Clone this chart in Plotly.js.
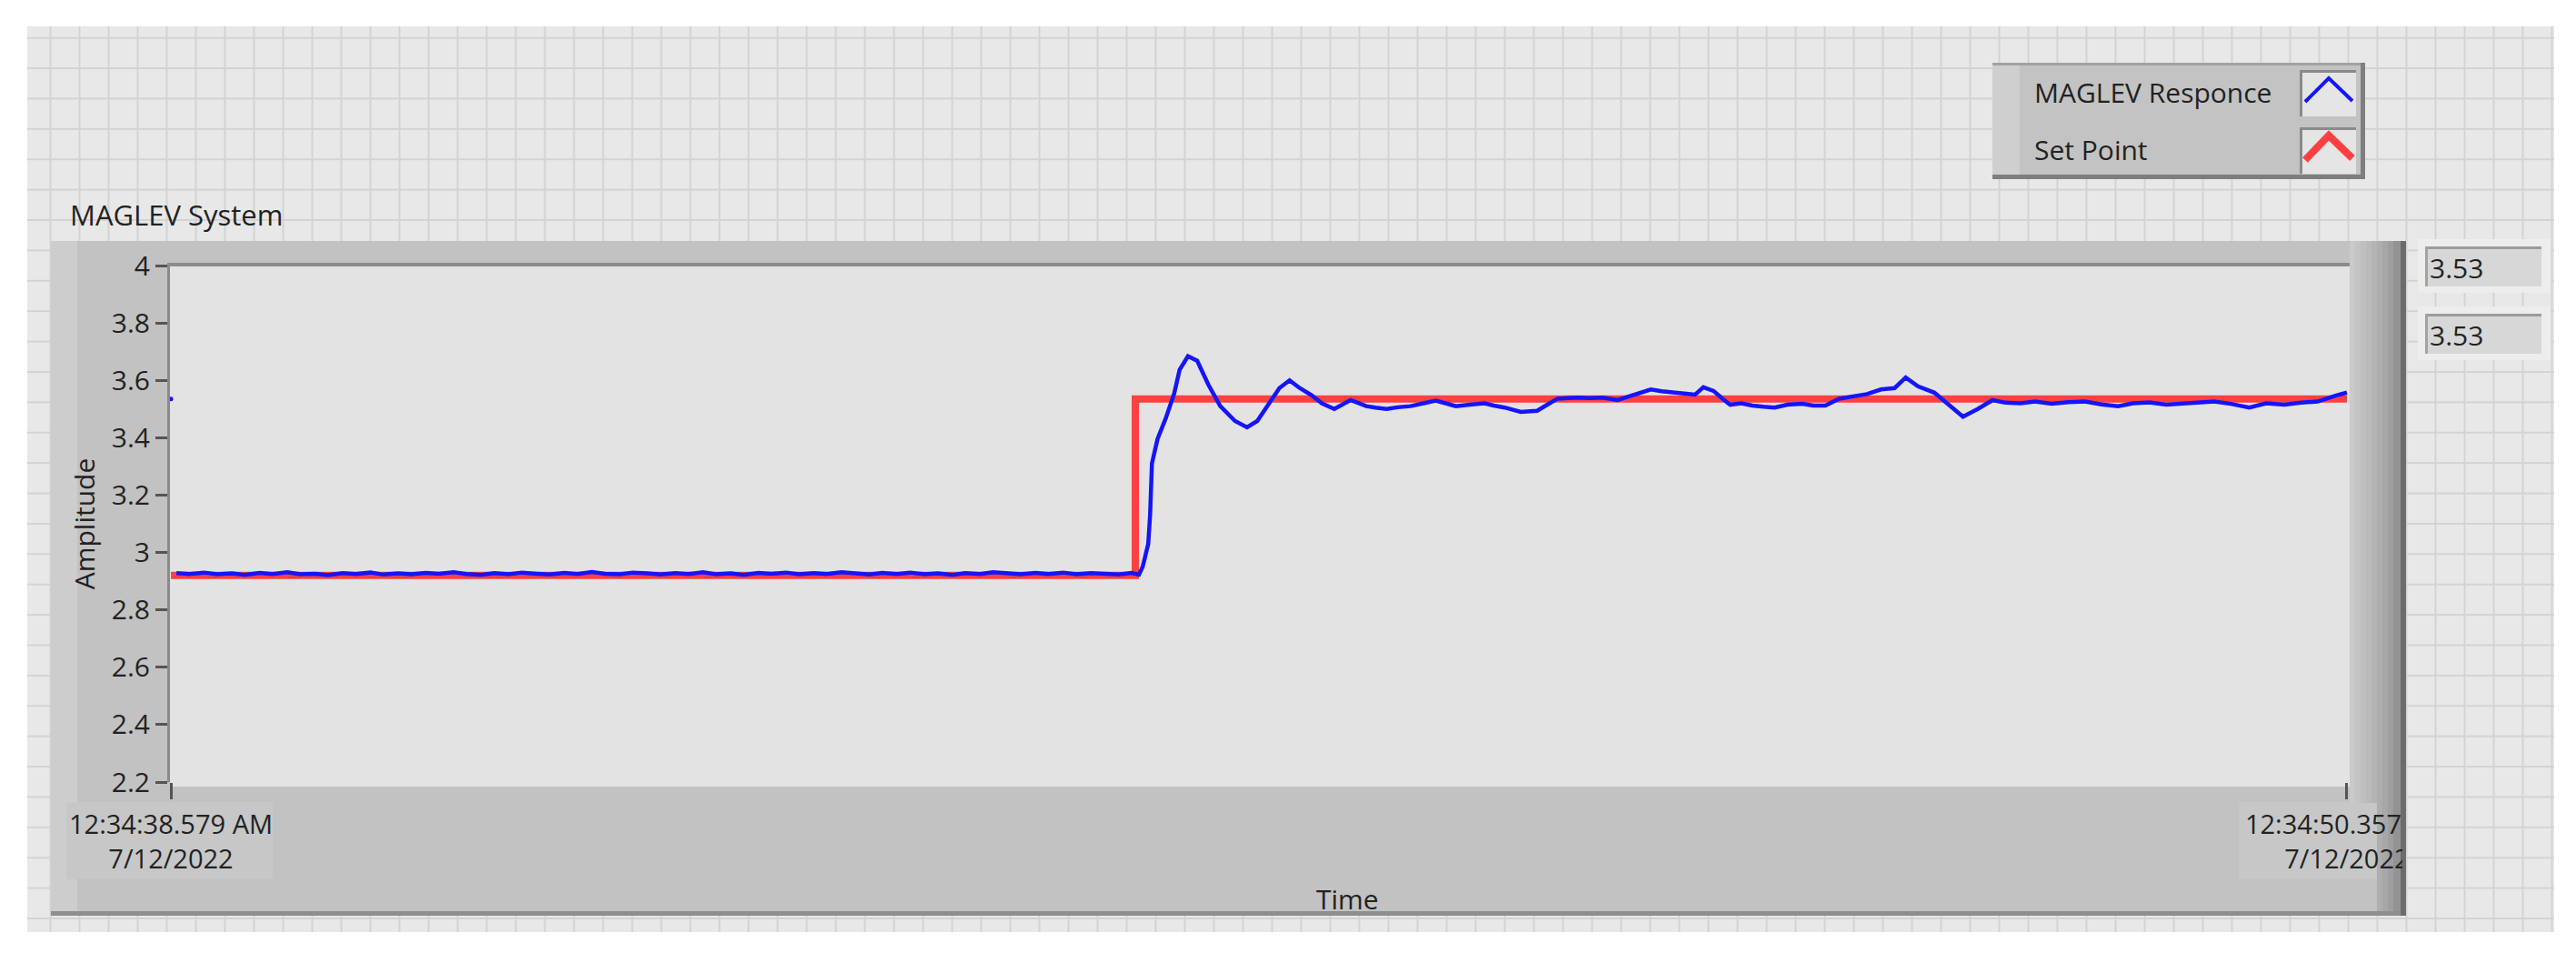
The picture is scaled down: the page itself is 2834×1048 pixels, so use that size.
<!DOCTYPE html>
<html><head><meta charset="utf-8">
<script src="https://cdn.plot.ly/plotly-3.0.1.min.js"></script>
<style>
html,body{margin:0;padding:0;background:#fff;width:2834px;height:1048px;overflow:hidden}
#panel{position:absolute;left:30px;top:29px;width:2780px;height:996px;background-color:#e8e8e8;
background-image:linear-gradient(to right,#d3d3d3 0,#d3d3d3 2px,transparent 2px),linear-gradient(to bottom,#d3d3d3 0,#d3d3d3 2px,transparent 2px);
background-size:32px 100%,100% 33.4px;background-position:24.5px 0,0 11.7px;}
#chart{position:absolute;left:0;top:0;width:2834px;height:1048px}
</style></head><body><div id="panel"></div><div id="chart"></div>
<script>
// ---- data (time in seconds from 12:34:38.579 AM) ----
const seriesNames = ['MAGLEV Responce', 'Set Point'];
const tickTimes = [0, 11.778];
const tickLabels = ['12:34:38.579 AM<br>7/12/2022', '12:34:50.357 AM<br>7/12/2022'];
const displayValues = ['3.53', '3.53'];

const setT = [0, 5.22, 5.22, 11.778];
const setV = [2.92, 2.92, 3.535, 3.535];

const strayT = [0];
const strayV = [3.535];

const respT = [0.03,0.10,0.18,0.25,0.33,0.40,0.48,0.55,0.63,0.70,0.78,0.85,0.93,1.00,1.08,1.15,1.23,1.30,1.38,1.45,1.53,1.60,1.68,1.75,1.83,1.90,1.98,2.05,2.13,2.20,2.28,2.35,2.43,2.50,2.58,2.65,2.73,2.80,2.88,2.95,3.03,3.10,3.18,3.25,3.33,3.40,3.48,3.55,3.63,3.70,3.78,3.85,3.93,4.00,4.08,4.15,4.23,4.30,4.38,4.45,4.53,4.60,4.68,4.75,4.83,4.90,4.98,5.05,5.13,5.20,5.24,
 5.26,5.29,5.30,5.31,5.34,5.385,5.43,5.46,5.505,5.555,5.616,5.68,5.76,5.825,5.88,5.945,6.00,6.055,6.11,6.176,6.23,6.297,6.34,6.385,6.43,6.47,6.52,6.58,6.64,6.71,6.78,6.846,6.90,6.955,7.03,7.11,7.16,7.22,7.306,7.35,7.395,7.45,7.505,7.56,7.615,7.68,7.75,7.83,7.90,7.96,8.01,8.07,8.14,8.19,8.25,8.295,8.35,8.40,8.44,8.50,8.56,8.62,8.68,8.75,8.83,8.89,8.955,9.03,9.10,9.18,9.256,9.33,9.39,9.456,9.545,9.61,9.70,9.78,9.86,9.93,10.01,10.09,10.18,10.27,10.36,10.45,10.54,10.62,10.71,10.80,10.89,10.97,11.06,11.15,11.25,11.34,11.44,11.53,11.62,11.72,11.778];
const respV = [2.928,2.925,2.930,2.924,2.927,2.922,2.929,2.925,2.931,2.924,2.926,2.921,2.928,2.925,2.930,2.923,2.927,2.924,2.929,2.926,2.931,2.925,2.922,2.928,2.924,2.930,2.926,2.923,2.929,2.925,2.932,2.926,2.924,2.930,2.927,2.923,2.928,2.925,2.931,2.924,2.927,2.922,2.929,2.926,2.930,2.924,2.928,2.925,2.931,2.926,2.923,2.929,2.925,2.930,2.924,2.927,2.922,2.928,2.925,2.931,2.926,2.924,2.929,2.925,2.930,2.924,2.928,2.926,2.923,2.929,2.923,
 2.950,3.030,3.130,3.310,3.395,3.468,3.553,3.637,3.684,3.668,3.584,3.510,3.458,3.436,3.458,3.520,3.573,3.600,3.573,3.547,3.520,3.500,3.515,3.531,3.520,3.510,3.505,3.500,3.506,3.510,3.520,3.529,3.520,3.510,3.515,3.520,3.512,3.505,3.490,3.492,3.494,3.515,3.536,3.538,3.540,3.538,3.540,3.531,3.545,3.555,3.568,3.562,3.557,3.552,3.550,3.576,3.563,3.535,3.515,3.520,3.512,3.508,3.505,3.515,3.518,3.512,3.512,3.536,3.545,3.552,3.568,3.573,3.610,3.579,3.557,3.520,3.473,3.500,3.531,3.522,3.520,3.526,3.518,3.524,3.526,3.516,3.510,3.520,3.523,3.515,3.518,3.524,3.526,3.518,3.505,3.520,3.515,3.522,3.526,3.547,3.557];

// ---- pixel helpers for decoration (plot area 187..2585 x 292..860) ----
const PL = 187, PR = 2585, PT = 292, PB = 860;
const FS = 30, TXT = '#222222';
const fx = p => (p - PL) / (PR - PL);
const fy = p => (PB - p) / (PB - PT);
const rect = (x0, y0, x1, y1, fill) => ({type:'rect', xref:'paper', yref:'paper', x0:fx(x0), x1:fx(x1), y0:fy(y1), y1:fy(y0), fillcolor:fill, line:{width:0}, layer:'below'});
const path = (pts, color, w) => ({type:'path', xref:'paper', yref:'paper', path: pts.map((p,i)=>(i?'L':'M')+fx(p[0])+','+fy(p[1])).join(' '), line:{color:color, width:w}, layer:'above'});
const ann = (x, y, text, xanchor) => ({xref:'paper', yref:'paper', x:fx(x), y:fy(y), text:text, showarrow:false, xanchor:xanchor, yanchor:'middle', font:{size:FS, color:TXT}});

const shapes = [];
// chart frame
shapes.push(rect(56, 265, 2647, 1007, '#c2c2c2'));
shapes.push(rect(56, 265, 85, 1003, '#cdcdcd'));
shapes.push(rect(56, 1002, 2647, 1007, '#8e8e8e'));
shapes.push(rect(73, 882, 300, 967, '#c7c7c7'));
shapes.push(rect(2463, 882, 2643, 967, '#c7c7c7'));
const bands = [[2585,2591,'#cacaca'],[2591,2597,'#c4c4c4'],[2597,2603,'#bfbfbf'],[2603,2609,'#bababa'],[2609,2615,'#b4b4b4'],[2615,2621,'#aeaeae'],[2621,2627,'#a7a7a7'],[2627,2633,'#9f9f9f'],[2633,2641,'#939393']];
bands.forEach(b => { shapes.push(rect(b[0], 265, b[1], b[0] >= 2613 ? 1002 : 883, b[2])); });
shapes.push(rect(2641, 265, 2647, 1007, '#6c6c6c'));
// plot background and sunken border
shapes.push(rect(187, 292, 2585, 865, '#e3e3e3'));
shapes.push(rect(184, 289, 2585, 293, '#8c8c8c'));
// legend box
shapes.push(rect(2192, 69, 2602, 197, '#c3c3c3'));
shapes.push(rect(2192, 69, 2222, 195, '#cfcfcf'));
shapes.push(rect(2192, 69, 2602, 72, '#a2a2a2'));
shapes.push(rect(2192, 192, 2602, 197, '#7e7e7e'));
shapes.push(rect(2597, 69, 2602, 197, '#7e7e7e'));
[[77,128],[140,191]].forEach(r => {
  shapes.push(rect(2530, r[0], 2592, r[1], '#e5e5e5'));
  shapes.push(rect(2530, r[0], 2592, r[0]+3, '#8a8a8a'));
  shapes.push(rect(2530, r[0], 2533, r[1], '#8a8a8a'));
});
shapes.push(path([[2536,112],[2562,86],[2588,111]], '#1414ff', 4));
shapes.push(path([[2536,176],[2562,149],[2588,174]], '#ff4040', 8));
// digital displays
[263, 337].forEach(y => {
  shapes.push(rect(2660, y, 2806, y+59, '#ededed'));
  shapes.push(rect(2668, y+8, 2796, y+52, '#d7d7d7'));
  shapes.push(rect(2668, y+8, 2796, y+11, '#9c9c9c'));
  shapes.push(rect(2668, y+8, 2671, y+52, '#a3a3a3'));
});

const annotations = [
  ann(2236, 101, seriesNames[0], 'left'),
  ann(2236, 164, seriesNames[1], 'left'),
  ann(2671, 294, displayValues[0], 'left'),
  ann(2671, 368, displayValues[1], 'left'),
  ann(1482, 988, 'Time', 'center')
];

const data = [
  {type:'scatter', mode:'lines', name:seriesNames[1], x:setT, y:setV, line:{color:'#ff4040', width:8}},
  {type:'scatter', mode:'lines', name:seriesNames[0], x:respT, y:respV, line:{color:'#1414ff', width:4.5}},
  {type:'scatter', mode:'markers', name:seriesNames[0], x:strayT, y:strayV, marker:{color:'#1414ff', size:5}, showlegend:false}
];

const layout = {
  width:2834, height:1048,
  margin:{l:PL, r:2834-PR, t:PT, b:1048-PB, pad:0},
  paper_bgcolor:'rgba(0,0,0,0)', plot_bgcolor:'rgba(0,0,0,0)',
  showlegend:false,
  font:{family:'"Open Sans", "Noto Sans", sans-serif', size:FS, color:TXT},
  title:{text:'MAGLEV System', xref:'container', yref:'container', x:77/2834, y:1-237/1048, xanchor:'left', yanchor:'middle', font:{size:FS+1, color:TXT}},
  xaxis:{range:[-0.005, 11.793], tickmode:'array', tickvals:tickTimes, ticktext:tickLabels, ticks:'outside', ticklen:18, tickwidth:3, tickcolor:'#555', showgrid:false, zeroline:false, showline:false, ticklabelstandoff:3, tickfont:{size:29, color:TXT}, fixedrange:true},
  yaxis:{range:[2.2, 4], tick0:2.2, dtick:0.2, ticks:'outside', ticklen:13, tickwidth:3, tickcolor:'#555', showline:true, linecolor:'#8a8a8a', linewidth:3, showgrid:false, zeroline:false, fixedrange:true, tickfont:{size:30, color:TXT},
         title:{text:'Amplitude', standoff:10, font:{size:FS, color:TXT}}},
  shapes:shapes, annotations:annotations
};

Plotly.newPlot('chart', data, layout, {staticPlot:true}).then(gd => {
  const svg = gd.querySelector('svg.main-svg');
  const ns = 'http://www.w3.org/2000/svg';
  let defs = svg.querySelector('defs');
  if (!defs) { defs = document.createElementNS(ns, 'defs'); svg.insertBefore(defs, svg.firstChild); }
  const cp = document.createElementNS(ns, 'clipPath');
  cp.setAttribute('id', 'xlabclip'); cp.setAttribute('clipPathUnits', 'userSpaceOnUse');
  const r = document.createElementNS(ns, 'rect');
  r.setAttribute('x', 0); r.setAttribute('y', 0); r.setAttribute('width', 2643); r.setAttribute('height', 1048);
  cp.appendChild(r); defs.appendChild(cp);
  gd.querySelectorAll('.xaxislayer-above').forEach(g => g.setAttribute('clip-path', 'url(#xlabclip)'));
});
</script></body></html>
